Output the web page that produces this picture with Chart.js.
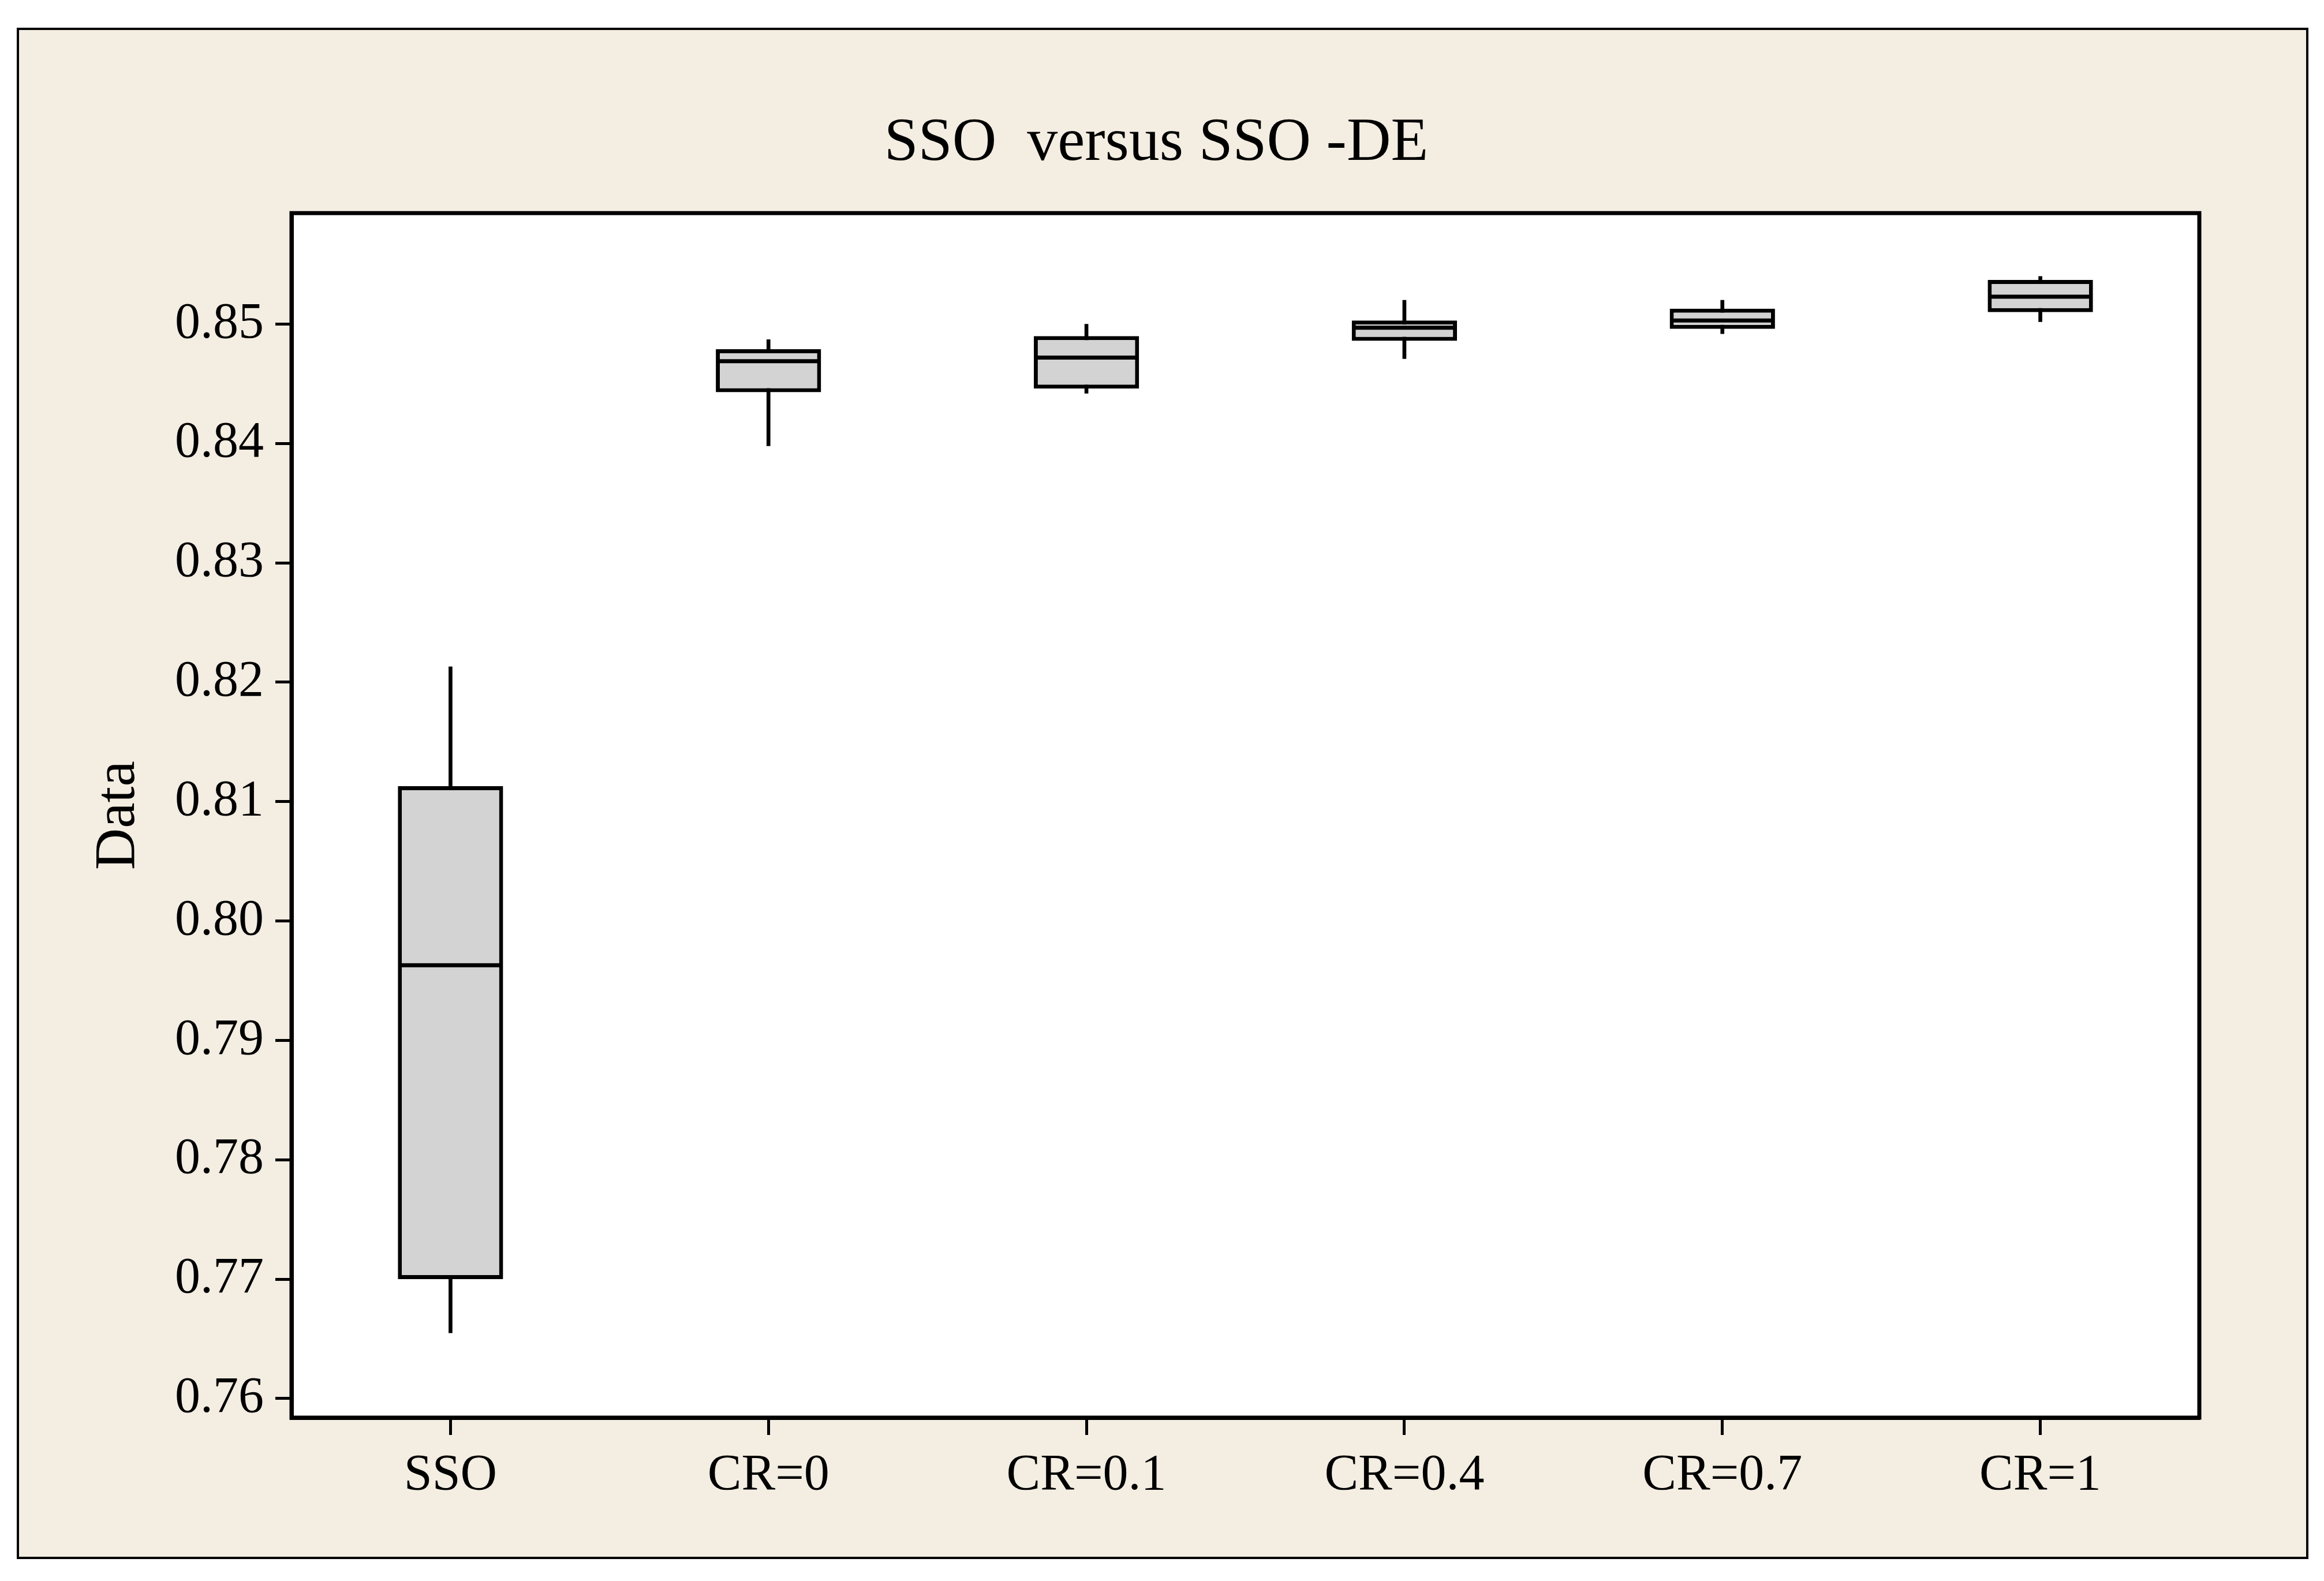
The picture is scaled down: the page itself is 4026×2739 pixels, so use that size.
<!DOCTYPE html>
<html>
<head>
<meta charset="utf-8">
<title>SSO versus SSO-DE</title>
<script src="https://cdn.jsdelivr.net/npm/chart.js@4.4.1/dist/chart.umd.min.js"></script>
<style>
    html, body { margin: 0; padding: 0; background: #ffffff; }
    canvas { display: block; }
</style>
</head>
<body>
<canvas id="graficoBox" width="4026" height="2739" style="width:4026px;height:2739px"></canvas>
<script>
// ============================================
// BOXPLOT - SSO versus SSO-DE
// ============================================

// ========== DADOS ==========
const categorias = ['SSO', 'CR=0', 'CR=0.1', 'CR=0.4', 'CR=0.7', 'CR=1'];
const minimos    = [0.7655, 0.8398, 0.8442, 0.8471, 0.8492, 0.8502];
const quartil1   = [0.7700, 0.8443, 0.8446, 0.8486, 0.8496, 0.8510];
const medianas   = [0.7963, 0.8469, 0.8472, 0.8497, 0.8503, 0.8523];
const quartil3   = [0.8113, 0.8479, 0.8490, 0.8503, 0.8513, 0.8537];
const maximos    = [0.8213, 0.8487, 0.8500, 0.8520, 0.8520, 0.8540];
const ticksY     = [0.76, 0.77, 0.78, 0.79, 0.80, 0.81, 0.82, 0.83, 0.84, 0.85];

const COR_FUNDO = '#f3ede2';
const COR_CAIXA = '#d3d3d3';
const FONTE = '"Liberation Serif", "DejaVu Serif", serif';

// ========== MOLDURA E FUNDO ==========
const molduraPlugin = {
    id: 'moldura',
    beforeDraw(chart) {
        const ctx = chart.ctx;
        const area = chart.chartArea;
        ctx.save();
        ctx.fillStyle = '#ffffff';
        ctx.fillRect(0, 0, chart.width, chart.height);
        ctx.fillStyle = COR_FUNDO;
        ctx.fillRect(31, 50, 3966, 2649);
        ctx.lineWidth = 4;
        ctx.strokeStyle = '#000000';
        ctx.strokeRect(31, 50, 3966, 2649);
        ctx.fillStyle = '#ffffff';
        ctx.fillRect(area.left, area.top, area.right - area.left, area.bottom - area.top);
        ctx.restore();
    },
    afterDraw(chart) {
        const ctx = chart.ctx;
        const area = chart.chartArea;
        ctx.save();
        ctx.lineWidth = 7;
        ctx.strokeStyle = '#000000';
        ctx.strokeRect(area.left, area.top, area.right - area.left, area.bottom - area.top);
        ctx.restore();
    }
};

// ========== MONTAR GRÁFICO ==========
const ctx = document.getElementById('graficoBox').getContext('2d');

const grafico = new Chart(ctx, {
    type: 'bar',
    data: {
        labels: categorias,
        datasets: [
            {
                // mediana
                type: 'line',
                label: 'Mediana',
                data: medianas,
                showLine: false,
                pointStyle: 'line',
                pointRadius: 87,
                pointBorderWidth: 7,
                pointBorderColor: '#000000',
                pointBackgroundColor: '#000000',
                order: 1
            },
            {
                // caixa Q1..Q3
                label: 'Caixa',
                data: categorias.map((c, i) => [quartil1[i], quartil3[i]]),
                backgroundColor: COR_CAIXA,
                borderColor: '#000000',
                borderWidth: 7,
                borderSkipped: false,
                barPercentage: 0.331,
                categoryPercentage: 1,
                grouped: false,
                order: 2
            },
            {
                // bigodes min..max
                label: 'Bigodes',
                data: categorias.map((c, i) => [minimos[i], maximos[i]]),
                backgroundColor: '#000000',
                borderWidth: 0,
                barThickness: 6,
                grouped: false,
                order: 3
            }
        ]
    },
    options: {
        responsive: false,
        devicePixelRatio: 1,
        animation: false,
        events: [],
        layout: {
            padding: { left: 196, right: 216, top: 0, bottom: 83 }
        },
        plugins: {
            legend: { display: false },
            tooltip: { enabled: false },
            title: {
                display: true,
                text: 'SSO  versus SSO -DE',
                color: '#000000',
                font: { family: FONTE, size: 106, weight: 'normal' },
                padding: { top: 186, bottom: 56 }
            }
        },
        scales: {
            x: {
                offset: true,
                grid: {
                    offset: false,
                    drawOnChartArea: false,
                    tickLength: 30,
                    tickWidth: 5,
                    color: '#000000'
                },
                border: { display: true, color: '#000000', width: 7 },
                ticks: {
                    color: '#000000',
                    font: { family: FONTE, size: 88 },
                    padding: 18,
                    maxRotation: 0,
                    autoSkip: false
                },
                afterFit: s => { s.height = 200; }
            },
            y: {
                min: 0.7584,
                max: 0.8593,
                afterBuildTicks: axis => { axis.ticks = ticksY.map(v => ({ value: v })); },
                grid: {
                    drawOnChartArea: false,
                    tickLength: 28,
                    tickWidth: 5,
                    color: '#000000'
                },
                border: { display: true, color: '#000000', width: 7 },
                ticks: {
                    color: '#000000',
                    font: { family: FONTE, size: 88 },
                    padding: 20,
                    callback: v => Number(v).toFixed(2)
                },
                title: {
                    display: true,
                    text: 'Data',
                    color: '#000000',
                    font: { family: FONTE, size: 100 },
                    padding: { top: -50, bottom: 0 }
                },
                afterFit: s => { s.width = 309; }
            }
        }
    },
    plugins: [molduraPlugin]
});
</script>
</body>
</html>
